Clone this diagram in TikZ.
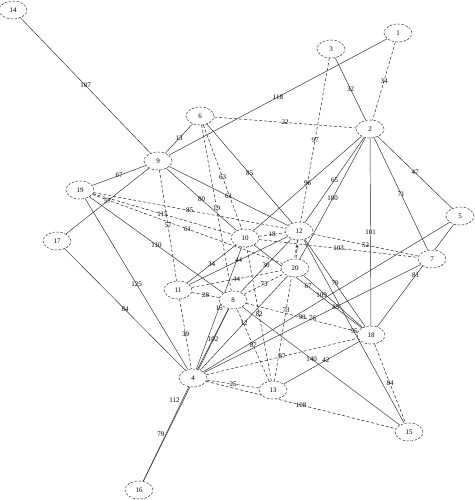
\documentclass[tikz,border=0pt]{standalone}
\usepackage{fontspec}
\setmainfont{Liberation Serif}
\usetikzlibrary{shapes.geometric}
\pgfdeclarelayer{edges}
\pgfsetlayers{edges,main}
\begin{document}
\begin{tikzpicture}[x=1pt,y=-1pt,
  vtx/.style={ellipse,draw=black!80,fill=white,dash pattern=on 2.5pt off 1.5pt,line width=0.5pt,minimum width=28pt,minimum height=18pt,inner sep=0pt,font=\fontsize{7}{8}\selectfont},
  sol/.style={draw=black!85,line width=0.45pt},
  dsh/.style={draw=black!85,line width=0.5pt,dash pattern=on 3pt off 2pt},
  lbl/.style={font=\fontsize{7}{8}\selectfont,inner sep=0.5pt}]
\useasboundingbox (0,0) rectangle (474,500);
% vertices
\node[vtx] (n1) at (398,33) {1};
\node[vtx] (n2) at (370,129) {2};
\node[vtx] (n3) at (331,49) {3};
\node[vtx] (n4) at (193,378) {4};
\node[vtx] (n5) at (460,216) {5};
\node[vtx] (n6) at (200,116) {6};
\node[vtx] (n7) at (432,259) {7};
\node[vtx] (n8) at (233,300) {8};
\node[vtx] (n9) at (158,161) {9};
\node[vtx] (n10) at (245,238) {10};
\node[vtx] (n11) at (178,290) {11};
\node[vtx] (n12) at (299,231) {12};
\node[vtx] (n13) at (273,390) {13};
\node[vtx] (n14) at (13,10) {14};
\node[vtx] (n15) at (409,432) {15};
\node[vtx] (n16) at (139,490) {16};
\node[vtx] (n17) at (57,241) {17};
\node[vtx] (n18) at (371,335) {18};
\node[vtx] (n19) at (80,190) {19};
\node[vtx] (n20) at (295,268) {20};
\begin{pgfonlayer}{edges}
% solid edges
\draw[sol] (n14) -- node[lbl]{107} (n9);
\draw[sol] (n1) -- node[lbl]{118} (n9);
\draw[sol] (n3) -- node[lbl]{32} (n2);
\draw[sol] (n6) -- node[lbl]{13} (n9);
\draw[sol] (n6) -- node[lbl]{85} (n12);
\draw[sol] (n9) -- node[lbl]{67} (n19);
\draw[sol] (n9) -- node[lbl]{57} (n17);
\draw[sol] (n9) -- node[lbl]{80} (n10);
\draw[sol] (n9) -- node[lbl]{61} (n12);
\draw[sol] (n2) -- node[lbl]{65} (n12);
\draw[sol] (n2) -- node[lbl]{100} (n20);
\draw[sol] (n2) -- node[lbl]{96} (n10);
\draw[sol] (n2) -- node[lbl]{47} (n5);
\draw[sol] (n2) -- node[lbl]{71} (n7);
\draw[sol] (n2) -- node[lbl]{101} (n18);
\draw[sol] (n19) -- node[lbl]{110} (n8);
\draw[sol] (n19) -- node[lbl]{125} (n4);
\draw[sol] (n17) -- node[lbl]{84} (n4);
\draw[sol] (n11) -- node[lbl]{34} (n10);
\draw[sol] (n11) -- node[lbl]{44} (n12);
\draw[sol] (n8) -- node[lbl]{30} (n12);
\draw[sol] (n12) -- node[lbl]{79} (n18);
\draw[sol] (n12) -- node[lbl]{95} (n15);
\draw[sol] (n10) -- node[lbl]{67} (n18);
\draw[sol] (n13) -- node[lbl,pos=0.55]{42} (n18);
\draw[sol] (n8) -- node[lbl,pos=0.44]{140} (n15);
\draw[sol] (n4) -- node[lbl,pos=0.5,left=1pt]{79} (n16);
\draw[sol] (n16) -- node[lbl,pos=0.47,left=3pt]{112} (n8);
\draw[sol] (n4) -- node[lbl]{102} (n8);
\draw[sol] (n4) -- node[lbl]{16} (n10);
\draw[sol] (n4) -- node[lbl]{12} (n20);
\draw[sol] (n5) -- node[lbl,pos=0.5,above left=-1pt]{109} (n4);
\draw[sol] (n7) -- node[lbl]{76} (n4);
\draw[sol] (n5) -- node[lbl]{81} (n18);
\draw[sol] (n20) -- node[lbl,pos=0.55,below=0pt]{85} (n18);
% dashed edges
\draw[dsh] (n1) -- node[lbl]{34} (n2);
\draw[dsh] (n6) -- node[lbl]{22} (n2);
\draw[dsh] (n3) -- node[lbl]{97} (n12);
\draw[dsh] (n6) -- node[lbl]{63} (n10);
\draw[dsh] (n6) -- node[lbl]{19} (n8);
\draw[dsh] (n19) -- node[lbl]{85} (n12);
\draw[dsh] (n19) -- node[lbl]{115} (n10);
\draw[dsh] (n19) -- node[lbl]{61} (n20);
\draw[dsh] (n9) -- node[lbl]{57} (n11);
\draw[dsh] (n11) -- node[lbl]{39} (n4);
\draw[dsh] (n12) -- node[lbl]{52} (n7);
\draw[dsh] (n10) -- node[lbl]{103} (n7);
\draw[dsh] (n10) -- node[lbl]{18} (n12);
\draw[dsh] (n11) -- node[lbl]{28} (n8);
\draw[dsh] (n11) -- node[lbl]{44} (n20);
\draw[dsh] (n8) -- node[lbl]{73} (n20);
\draw[dsh] (n12) -- node[lbl]{7} (n20);
\draw[dsh] (n18) -- node[lbl]{84} (n15);
\draw[dsh] (n8) -- node[lbl]{99} (n18);
\draw[dsh] (n4) -- node[lbl]{25} (n13);
\draw[dsh] (n4) -- node[lbl]{108} (n15);
\draw[dsh] (n4) -- node[lbl]{87} (n18);
\draw[dsh] (n13) -- node[lbl]{87} (n8);
\draw[dsh] (n13) -- node[lbl]{82} (n10);
\draw[dsh] (n13) -- node[lbl]{73} (n12);
\end{pgfonlayer}
\end{tikzpicture}
\end{document}
